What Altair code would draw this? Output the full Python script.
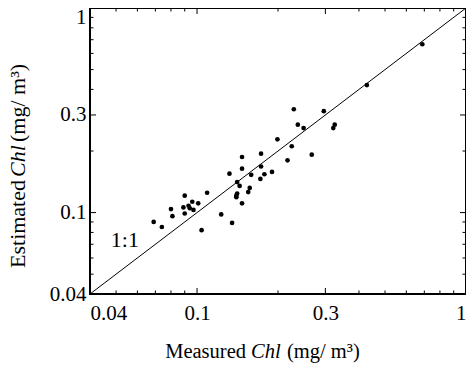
import altair as alt
import pandas as pd

measured = [0.688, 0.428, 0.229, 0.296, 0.237, 0.249, 0.325, 0.321, 0.199, 0.225,
            0.267, 0.147, 0.173, 0.217, 0.147, 0.173, 0.132, 0.159, 0.178, 0.190,
            0.172, 0.141, 0.144, 0.157, 0.155, 0.109, 0.141, 0.140, 0.140, 0.090,
            0.096, 0.101, 0.093, 0.089, 0.094, 0.097, 0.080, 0.147, 0.090, 0.081,
            0.123, 0.069, 0.135, 0.074, 0.104]
estimated = [0.665, 0.420, 0.320, 0.313, 0.269, 0.259, 0.269, 0.259, 0.228, 0.211,
             0.192, 0.187, 0.194, 0.180, 0.164, 0.168, 0.155, 0.153, 0.154, 0.158,
             0.146, 0.141, 0.135, 0.132, 0.126, 0.125, 0.124, 0.121, 0.119, 0.121,
             0.113, 0.111, 0.108, 0.106, 0.105, 0.103, 0.104, 0.111, 0.099, 0.096,
             0.098, 0.090, 0.089, 0.085, 0.082]

axis_ticks = [0.04, 0.1, 0.3, 1]
major_ticks = [0.1, 0.3]
minor_ticks = [0.05, 0.06, 0.07, 0.08, 0.09, 0.2, 0.4, 0.5, 0.6, 0.7, 0.8, 0.9]
line_vals = [0.04, 1.0]
ratio_label = ["1:1"]
ratio_x = [0.0539]
ratio_y = [0.0733]

W, H = 376, 286
LEFT = 82
OX, OY = LEFT + 8, 8  # page position of the plot's top-left corner
FONT = "Liberation Serif"

xscale = alt.Scale(type="log", domain=[0.04, 1], nice=False, zero=False)
yscale = alt.Scale(type="log", domain=[0.04, 1], nice=False, zero=False)


def X(f):
    return alt.X(f, type="quantitative", scale=xscale, title="",
                 axis=alt.Axis(values=axis_ticks, format="~g"))


def Y(f):
    return alt.Y(f, type="quantitative", scale=yscale, title="",
                 axis=alt.Axis(values=axis_ticks, format="~g",
                               labelOffset={"condition": {"test": "datum.value == 1",
                                                          "value": 9},
                                            "value": 0}))


pts = pd.DataFrame({"m": measured, "e": estimated})
points = alt.Chart(pts).mark_circle(size=22, color="black", opacity=1).encode(
    x=X("m"), y=Y("e"))

ldf = pd.DataFrame({"a": line_vals, "b": line_vals})
line = alt.Chart(ldf).mark_line(color="black", strokeWidth=1, clip=True).encode(
    x=X("a"), y=Y("b"))

rdf = pd.DataFrame({"t": ratio_label, "x": ratio_x, "y": ratio_y})
ratio = alt.Chart(rdf).mark_text(font=FONT, fontSize=22, color="black",
                                 align="center", baseline="middle").encode(
    x=X("x"), y=Y("y"), text="t:N")

layers = [line, points, ratio]


def ticks(vals, length):
    d = pd.DataFrame({"v": vals})
    base = alt.Chart(d).mark_rule(color="black", strokeWidth=1)
    return [
        base.encode(x=X("v"), y=alt.value(H), y2=alt.value(H - length)),
        base.encode(x=X("v"), y=alt.value(0), y2=alt.value(length)),
        base.encode(y=Y("v"), x=alt.value(0), x2=alt.value(length)),
        base.encode(y=Y("v"), x=alt.value(W), x2=alt.value(W - length)),
    ]


layers += ticks(major_ticks, 6)
layers += ticks(minor_ticks, 3.5)


def label(txt, x, y, align, angle=0, italic=False, size=20):
    d = pd.DataFrame({"t": [txt]})
    kw = dict(font=FONT, fontSize=size, color="black", align=align,
              baseline="alphabetic", angle=angle)
    if italic:
        kw["fontStyle"] = "italic"
    return alt.Chart(d).mark_text(**kw).encode(
        x=alt.value(x - OX), y=alt.value(y - OY), text="t:N")


# x-axis title pieces (page coordinates)
layers += [
    label("Measured", 246, 358, "right", size=20.5),
    label("Chl", 251, 358, "left", italic=True, size=20.5),
    label("(mg/ m³)", 287, 358, "left", size=20.5),
]
# y-axis title pieces
layers += [
    label("Estimated", 25, 180, "right", angle=270, size=22),
    label("Chl", 25, 177, "left", angle=270, italic=True, size=22),
    label("(mg/ m³)", 25, 142, "left", angle=270, size=22),
]

chart = alt.layer(*layers).properties(
    width=W, height=H,
    autosize=alt.AutoSizeParams(type="none"),
    padding={"left": LEFT, "top": 0, "right": 0, "bottom": 90},
).configure_view(stroke="black", strokeWidth=2).configure_axis(
    grid=False, domain=False, ticks=False, tickSize=0,
    labelFont=FONT, labelFontSize=21, labelColor="black",
).configure_axisX(labelPadding=8).configure_axisY(labelPadding=4)

chart.save("out.html", embed_options={"renderer": "svg", "actions": False})
